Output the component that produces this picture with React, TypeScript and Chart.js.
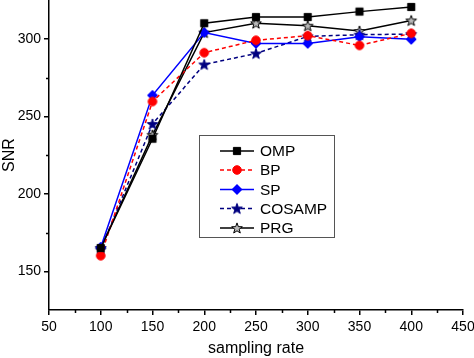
import React, { useEffect, useRef } from "react";
import { Chart, registerables } from "chart.js";

Chart.register(...registerables);

const samplingRates = [100, 150, 200, 250, 300, 350, 400];
const ompSNR = [165, 235.5, 310, 314, 314, 317.5, 320.5];
const bpSNR = [160, 259.5, 291, 299, 302, 295.7, 303.5];
const spSNR = [165.5, 263.5, 304, 297, 297, 301.3, 299.6];
const cosampSNR = [164, 245, 283.4, 290.5, 301.5, 302.6, 303];
const prgSNR = [165, 238, 304, 310, 308.4, 305, 311.8];

const xTickValues = [50, 100, 150, 200, 250, 300, 350, 400, 450];
const yTickValues = [150, 200, 250, 300];
const xMinorTicks = [75, 125, 175, 225, 275, 325, 375, 425];
const yMinorTicks = [175, 225, 275];
const seriesNames = ["OMP", "BP", "SP", "COSAMP", "PRG"];

const FONT = "'Liberation Sans', Arial, sans-serif";

function makeMarker(kind: string, fill: string, stroke: string): HTMLCanvasElement {
  const c = document.createElement("canvas");
  const s = 14;
  c.width = s;
  c.height = s;
  const ctx = c.getContext("2d")!;
  const cx = s / 2;
  const cy = s / 2;
  ctx.fillStyle = fill;
  ctx.strokeStyle = stroke;
  ctx.lineWidth = 1;
  ctx.beginPath();
  if (kind === "square") {
    ctx.rect(cx - 3.6, cy - 3.6, 7.2, 7.2);
  } else if (kind === "circle") {
    ctx.arc(cx, cy, 4.3, 0, Math.PI * 2);
  } else if (kind === "diamond") {
    ctx.moveTo(cx, cy - 5);
    ctx.lineTo(cx + 5, cy);
    ctx.lineTo(cx, cy + 5);
    ctx.lineTo(cx - 5, cy);
    ctx.closePath();
  } else if (kind === "star") {
    const ro = 5.6;
    const ri = 2.3;
    for (let i = 0; i < 10; i++) {
      const r = i % 2 === 0 ? ro : ri;
      const a = -Math.PI / 2 + (i * Math.PI) / 5;
      const px = cx + r * Math.cos(a);
      const py = cy + 0.5 + r * Math.sin(a);
      if (i === 0) ctx.moveTo(px, py);
      else ctx.lineTo(px, py);
    }
    ctx.closePath();
  }
  ctx.fill();
  ctx.stroke();
  return c;
}

export default function App() {
  const ref = useRef<HTMLCanvasElement | null>(null);

  useEffect(() => {
    if (!ref.current) return;
    const markers = [
      makeMarker("square", "#000", "#000"),
      makeMarker("circle", "#ff0000", "#ff0000"),
      makeMarker("diamond", "#0000ff", "#0000ff"),
      makeMarker("star", "#000080", "#000080"),
      makeMarker("star", "#b8b8b8", "#000"),
    ];
    const colors = ["#000000", "#ff0000", "#0000ff", "#000080", "#000000"];
    const dashes = [[], [4, 3], [], [4, 3], []];
    const values = [ompSNR, bpSNR, spSNR, cosampSNR, prgSNR];

    const datasets = seriesNames.map((name, i) => ({
      label: name,
      data: samplingRates.map((x, j) => ({ x, y: values[i][j] })),
      borderColor: colors[i],
      backgroundColor: colors[i],
      borderWidth: 1.5,
      borderDash: dashes[i],
      pointStyle: markers[i] as any,
      pointRadius: 5,
      tension: 0,
    }));

    const extras = {
      id: "extras",
      afterDraw(chart: any) {
        const ctx = chart.ctx;
        const xs = chart.scales.x;
        const ys = chart.scales.y;
        const area = chart.chartArea;
        ctx.save();
        ctx.strokeStyle = "#000";
        ctx.lineWidth = 1.5;
        ctx.beginPath();
        xMinorTicks.forEach((v) => {
          const px = Math.round(xs.getPixelForValue(v)) + 0.5;
          ctx.moveTo(px, area.bottom);
          ctx.lineTo(px, area.bottom + 3);
        });
        yMinorTicks.forEach((v) => {
          const py = Math.round(ys.getPixelForValue(v)) + 0.5;
          ctx.moveTo(area.left, py);
          ctx.lineTo(area.left - 3, py);
        });
        ctx.stroke();

        // legend
        const bx = 199, by = 135, bw = 135, bh = 102;
        ctx.fillStyle = "#fff";
        ctx.fillRect(bx, by, bw, bh);
        ctx.strokeStyle = "#555";
        ctx.lineWidth = 1;
        ctx.strokeRect(bx + 0.5, by + 0.5, bw, bh);
        const rowY = [151, 170, 189.5, 208.5, 228];
        ctx.font = `15.5px ${FONT}`;
        ctx.textBaseline = "middle";
        ctx.textAlign = "left";
        seriesNames.forEach((name, i) => {
          const y = rowY[i];
          ctx.strokeStyle = colors[i];
          ctx.lineWidth = 1.5;
          ctx.setLineDash(dashes[i]);
          ctx.beginPath();
          ctx.moveTo(220, y);
          ctx.lineTo(254, y);
          ctx.stroke();
          ctx.setLineDash([]);
          const m = markers[i];
          ctx.drawImage(m, 237 - m.width / 2, y - m.height / 2);
          ctx.fillStyle = "#000";
          ctx.fillText(name, 260, y + 1);
        });
        ctx.restore();
      },
    };

    const chart = new Chart(ref.current, {
      type: "line",
      data: { datasets: datasets as any },
      plugins: [extras],
      options: {
        responsive: false,
        animation: false,
        layout: { autoPadding: false, padding: { top: 0, right: 0, left: 0, bottom: 0 } },
        plugins: { legend: { display: false }, tooltip: { enabled: false } },
        scales: {
          x: {
            type: "linear",
            min: 50,
            max: 450,
            afterBuildTicks: (s: any) => {
              s.ticks = xTickValues.map((v) => ({ value: v }));
            },
            afterFit: (s: any) => {
              s.height = 48;
              s.paddingLeft = 0;
              s.paddingRight = 11;
            },
            grid: { display: true, drawOnChartArea: false, drawTicks: true, tickLength: 5, color: "#000", lineWidth: 1.5 },
            border: { display: true, color: "#000", width: 1.5 },
            ticks: { color: "#000", font: { family: FONT, size: 14 }, padding: 4, maxRotation: 0 },
            title: { display: true, text: "sampling rate", color: "#000", font: { family: FONT, size: 16 }, padding: { top: 0, bottom: 0 } },
          },
          y: {
            type: "linear",
            min: 125,
            max: 325,
            afterBuildTicks: (s: any) => {
              s.ticks = yTickValues.map((v) => ({ value: v }));
            },
            afterFit: (s: any) => {
              s.width = 49;
              s.paddingTop = 0;
              s.paddingBottom = 0;
            },
            grid: { display: true, drawOnChartArea: false, drawTicks: true, tickLength: 5, color: "#000", lineWidth: 1.5 },
            border: { display: true, color: "#000", width: 1.5 },
            ticks: { color: "#000", font: { family: FONT, size: 14 }, padding: 3 },
            title: { display: true, text: "SNR", color: "#000", font: { family: FONT, size: 16 }, padding: { top: 0, bottom: 0 } },
          },
        },
      },
    });
    return () => chart.destroy();
  }, []);

  return (
    <div style={{ position: "fixed", left: 0, top: 0, width: 474, height: 358, background: "#fff" }}>
      <canvas ref={ref} width={474} height={358} style={{ display: "block" }} />
    </div>
  );
}
